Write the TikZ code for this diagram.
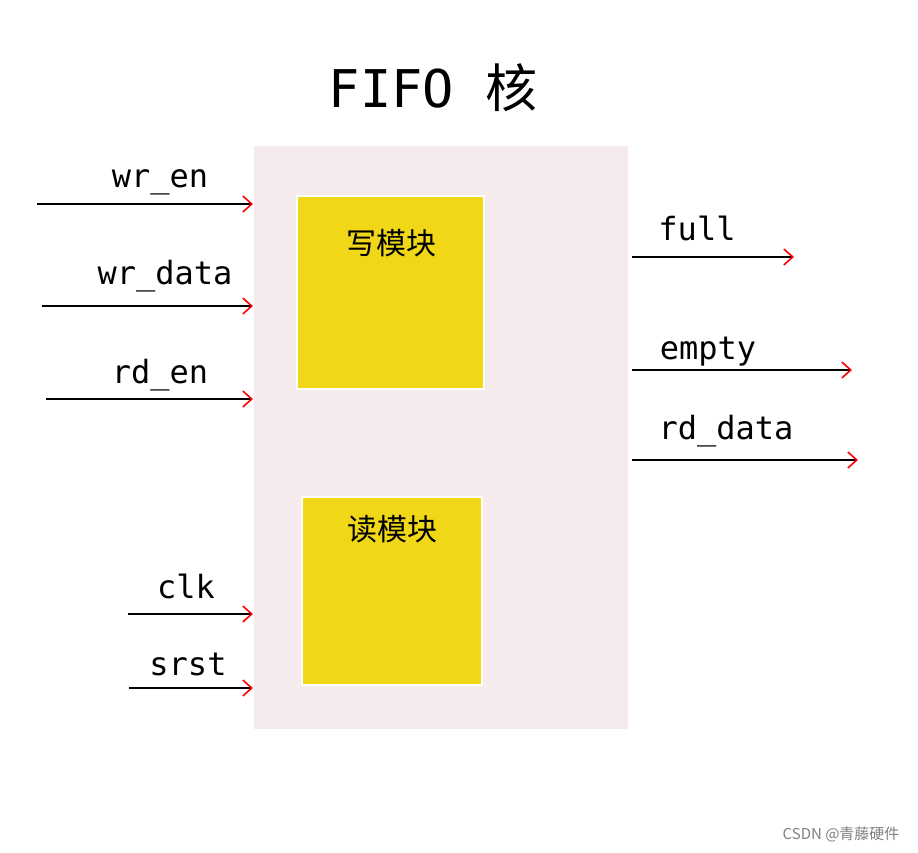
\documentclass[tikz,border=0pt]{standalone}
\usepackage{fontspec}
\setmainfont{DejaVu Sans Mono}
\newfontfamily\cjk{Noto Sans CJK SC}
\usetikzlibrary{arrows.meta}
\definecolor{corepink}{HTML}{F5EBEC}
\definecolor{blk}{HTML}{F0D818}
\begin{document}
\begin{tikzpicture}[x=1pt,y=-1pt,
  sig/.style={line width=2.2pt,-{Straight Barb[red,length=9pt,width=16pt,line width=1.6pt]}},
  lab/.style={font=\fontsize{32}{34}\selectfont,anchor=base},
  mod/.style={fill=blk,draw=white,line width=2pt},
  modlab/.style={font=\cjk\fontsize{30}{32}\selectfont}]
\useasboundingbox (0,0) rectangle (918,852);
\fill[white] (0,0) rectangle (918,852);
\node[fill=corepink,minimum width=374pt,minimum height=583pt,inner sep=0pt] (core) at (441,437.5) {};
\node[font=\fontsize{52}{56}\selectfont] (title) at (433,88) {FIFO {\cjk 核}};
\node[mod,minimum width=187pt,minimum height=193pt] (wm) at (390.5,292.5) {};
\node[modlab] (wml) at (391,243) {写模块};
\node[mod,minimum width=180pt,minimum height=188pt] (rm) at (392,591) {};
\node[modlab] (rml) at (392,529) {读模块};
% inputs
\coordinate (a1) at (37,204); \coordinate (b1) at (253,204);
\coordinate (a2) at (42,306); \coordinate (b2) at (253,306);
\coordinate (a3) at (46,399); \coordinate (b3) at (253,399);
\coordinate (a4) at (128,614); \coordinate (b4) at (253,614);
\coordinate (a5) at (129,688); \coordinate (b5) at (253,688);
\draw[sig] (a1) -- (b1); \draw[sig] (a2) -- (b2); \draw[sig] (a3) -- (b3);
\draw[sig] (a4) -- (b4); \draw[sig] (a5) -- (b5);
\node[lab] (l1) at (160,187) {wr\_en};
\node[lab] (l2) at (165,284) {wr\_data};
\node[lab] (l3) at (160,383) {rd\_en};
\node[lab] (l4) at (186,598) {clk};
\node[lab] (l5) at (188,675) {srst};
% outputs
\coordinate (c1) at (632,257); \coordinate (d1) at (794,257);
\coordinate (c2) at (632,370); \coordinate (d2) at (852,370);
\coordinate (c3) at (632,460); \coordinate (d3) at (858,460);
\draw[sig] (c1) -- (d1); \draw[sig] (c2) -- (d2); \draw[sig] (c3) -- (d3);
\node[lab] (o1) at (697,240) {full};
\node[lab] (o2) at (708,359) {empty};
\node[lab] (o3) at (726,439) {rd\_data};
\node[font=\cjk\fontsize{15}{17}\selectfont,text=gray,anchor=east] (wm) at (903,834) {CSDN @青藤硬件};
\end{tikzpicture}
\end{document}
